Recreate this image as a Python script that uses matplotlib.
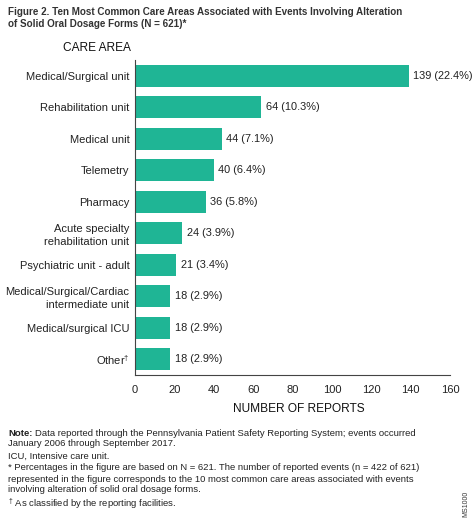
import matplotlib.pyplot as plt

# care areas, top to bottom, with report counts and percentages
areas = ['Medical/Surgical unit', 'Rehabilitation unit', 'Medical unit', 'Telemetry',
         'Pharmacy', 'Acute specialty\nrehabilitation unit', 'Psychiatric unit - adult',
         'Medical/Surgical/Cardiac\nintermediate unit', 'Medical/surgical ICU', 'Other$^{\\dagger}$']
counts = [139, 64, 44, 40, 36, 24, 21, 18, 18, 18]
pcts = [22.4, 10.3, 7.1, 6.4, 5.8, 3.9, 3.4, 2.9, 2.9, 2.9]
xticks = [0, 20, 40, 60, 80, 100, 120, 140, 160]

plt.rcParams['font.family'] = ['Liberation Sans', 'DejaVu Sans']
plt.rcParams['mathtext.fontset'] = 'custom'
plt.rcParams['mathtext.rm'] = 'Liberation Sans'
txt = '#222222'

fig = plt.figure(figsize=(4.74, 5.23), dpi=100)
ax = fig.add_axes([135/474, 1-375/523, 315/474, 315/523])

ypos = list(range(len(areas)))
ax.barh(ypos, counts, height=0.7, color='#1fb595')
for y, c, p in zip(ypos, counts, pcts):
    ax.text(c + 2.3, y, f'{c} ({p}%)', va='center', ha='left', fontsize=7.9, color=txt)

ax.set_xlim(0, 160)
ax.set_ylim(len(areas) - 0.5, -0.5)
ax.set_yticks(ypos)
ax.set_yticklabels(areas, fontsize=8, color=txt)
for t in ax.get_yticklabels():
    t.set_linespacing(1.35)
ax.set_xticks(xticks)
ax.set_xticklabels([str(t) for t in xticks], fontsize=8, color=txt)
ax.tick_params(length=0, pad=4)
ax.tick_params(axis='x', pad=7)
for s in ['top', 'right']:
    ax.spines[s].set_visible(False)
for s in ['left', 'bottom']:
    ax.spines[s].set_color('#444444')
    ax.spines[s].set_linewidth(0.8)

# title and axis titles
fig.text(8/474, 1-12/523, 'Figure 2. Ten Most Common Care Areas Associated with Events Involving Alteration',
         ha='left', va='center', fontsize=7.1, fontweight='bold', color='#333333',
         family=['Liberation Sans Narrow', 'Liberation Sans'])
fig.text(8/474, 1-24/523, 'of Solid Oral Dosage Forms (N = 621)*',
         ha='left', va='center', fontsize=7.1, fontweight='bold', color='#333333',
         family=['Liberation Sans Narrow', 'Liberation Sans'])
fig.text(63/474, 1-48/523, 'CARE AREA', ha='left', va='center', fontsize=8.6, color='#111111')
fig.text(299/474, 1-409/523, 'NUMBER OF REPORTS', ha='center', va='center', fontsize=8.6, color='#111111')

# notes
nfs = 6.8
note = fig.text(8/474, 1-433/523, 'Note:', ha='left', va='center', fontsize=nfs, fontweight='bold', color=txt)
r = fig.canvas.get_renderer()
nw = note.get_window_extent(r).width
fig.text((8 + nw + 3)/474, 1-433/523, 'Data reported through the Pennsylvania Patient Safety Reporting System; events occurred',
         ha='left', va='center', fontsize=nfs, color=txt)
fig.text(8/474, 1-444/523, 'January 2006 through September 2017.', ha='left', va='center', fontsize=nfs, color=txt)
fig.text(8/474, 1-456/523, 'ICU, Intensive care unit.', ha='left', va='center', fontsize=nfs, color=txt)
fig.text(8/474, 1-468/523, '* Percentages in the figure are based on N = 621. The number of reported events (n = 422 of 621)',
         ha='left', va='center', fontsize=nfs, color=txt)
fig.text(8/474, 1-479/523, 'represented in the figure corresponds to the 10 most common care areas associated with events',
         ha='left', va='center', fontsize=nfs, color=txt)
fig.text(8/474, 1-489/523, 'involving alteration of solid oral dosage forms.', ha='left', va='center', fontsize=nfs, color=txt)
fig.text(8/474, 1-504/523, '$^{\\dagger}$ As classified by the reporting facilities.', ha='left', va='center', fontsize=nfs, color=txt)
fig.text(466/474, 1-504/523, 'MS1000', rotation=90, ha='center', va='center', fontsize=5, color='#333333')

fig.savefig('out.png', dpi=100)
